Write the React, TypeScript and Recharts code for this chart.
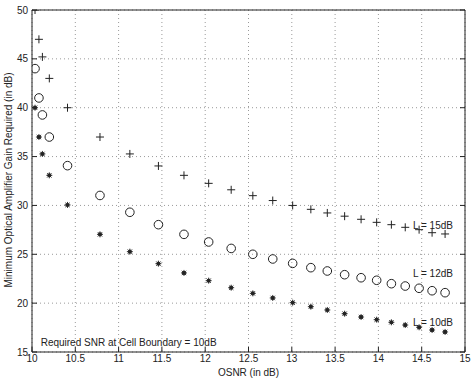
import {
  ScatterChart,
  Scatter,
  XAxis,
  YAxis,
  CartesianGrid,
  ReferenceDot,
} from "recharts";

// OSNR values (dB) shared by the three curves
const osnr = [
  10.035, 10.08, 10.12, 10.2, 10.41, 10.785, 11.13, 11.46, 11.755, 12.04, 12.3,
  12.55, 12.78, 13.01, 13.22, 13.41, 13.61, 13.8, 13.98, 14.15, 14.31, 14.47,
  14.62, 14.77,
];

const gainL15 = [
  50, 47, 45.2, 43, 40, 37, 35.27, 34.04, 33.08, 32.26, 31.6, 31.0, 30.5, 30.0,
  29.6, 29.23, 28.9, 28.58, 28.27, 28.03, 27.76, 27.52, 27.21, 27.08,
];
const gainL12 = [
  44, 41, 39.26, 37, 34.07, 31.02, 29.3, 28.03, 27.04, 26.26, 25.6, 25.0,
  24.52, 24.07, 23.63, 23.29, 22.91, 22.6, 22.34, 21.99, 21.75, 21.52, 21.27,
  21.07,
];
const gainL10 = [
  40, 37, 35.27, 33.08, 30.05, 27.04, 25.27, 24.04, 23.09, 22.3, 21.58, 21.0,
  20.53, 20.05, 19.64, 19.3, 18.92, 18.58, 18.31, 18.04, 17.76, 17.53, 17.25,
  17.05,
];

const xTicks = [10, 10.5, 11, 11.5, 12, 12.5, 13, 13.5, 14, 14.5, 15];
const yTicks = [15, 20, 25, 30, 35, 40, 45, 50];

const toPoints = (ys: number[]) => osnr.map((x, i) => ({ x, y: ys[i] }));

const INK = "#222";
const FONT = "'Liberation Sans', Arial, sans-serif";

const PlusMark = (p: any) => (
  <path
    d={`M${p.cx - 4},${p.cy}H${p.cx + 4}M${p.cx},${p.cy - 4}V${p.cy + 4}`}
    stroke={INK}
    strokeWidth={1}
    fill="none"
  />
);

const CircleMark = (p: any) => (
  <circle cx={p.cx} cy={p.cy} r={4.3} fill="none" stroke={INK} strokeWidth={1} />
);

const StarMark = (p: any) => {
  const r = 3;
  const d = 2.2;
  return (
    <g stroke={INK} strokeWidth={0.9}>
      <path
        d={`M${p.cx - r},${p.cy}H${p.cx + r}M${p.cx},${p.cy - r}V${p.cy + r}M${p.cx - d},${p.cy - d}L${p.cx + d},${p.cy + d}M${p.cx - d},${p.cy + d}L${p.cx + d},${p.cy - d}`}
      />
      <circle cx={p.cx} cy={p.cy} r={1.6} fill={INK} />
    </g>
  );
};

const textLabel = (value: string) => ({
  value,
  position: "right" as const,
  offset: 0,
  fill: INK,
  fontSize: 10,
});

export default function App() {
  const tickStyle = { fontSize: 10, fill: INK, fontFamily: FONT };
  return (
    <div style={{ position: "absolute", left: 0, top: 0, fontFamily: FONT }}>
      <ScatterChart
        width={474}
        height={379}
        margin={{ top: 9, right: 8, bottom: 0, left: 0 }}
      >
        <CartesianGrid
          stroke="#9a9a9a"
          strokeDasharray="1 3"
          horizontalValues={yTicks}
          verticalValues={xTicks}
        />
        <XAxis
          dataKey="x"
          type="number"
          domain={[10, 15]}
          ticks={xTicks}
          allowDataOverflow
          height={27}
          tick={tickStyle}
          tickSize={-5}
          tickMargin={8}
          stroke={INK}
          interval={0}
          label={{
            value: "OSNR (in dB)",
            position: "insideBottom",
            offset: 3,
            fill: INK,
            fontSize: 10,
          }}
        />
        <XAxis
          xAxisId="top"
          orientation="top"
          type="number"
          domain={[10, 15]}
          ticks={xTicks}
          allowDataOverflow
          height={1}
          tickFormatter={() => ""}
          tickSize={-5}
          stroke={INK}
          interval={0}
        />
        <YAxis
          dataKey="y"
          type="number"
          domain={[15, 50]}
          ticks={yTicks}
          allowDataOverflow
          width={32}
          tick={tickStyle}
          tickSize={-5}
          tickMargin={9}
          stroke={INK}
          interval={0}
          label={{
            content: () => (
              <text
                x={8}
                y={180}
                transform="rotate(-90 8 180)"
                textAnchor="middle"
                dominantBaseline="central"
                fontSize={10}
                fill={INK}
                fontFamily={FONT}
              >
                Minimum Optical Amplifier Gain Required (in dB)
              </text>
            ),
          }}
        />
        <YAxis
          yAxisId="right"
          orientation="right"
          type="number"
          domain={[15, 50]}
          ticks={yTicks}
          allowDataOverflow
          width={1}
          tickFormatter={() => ""}
          tickSize={-5}
          stroke={INK}
          interval={0}
        />
        <Scatter
          name="L = 15dB"
          data={toPoints(gainL15)}
          shape={PlusMark}
          isAnimationActive={false}
        />
        <Scatter
          name="L = 12dB"
          data={toPoints(gainL12)}
          shape={CircleMark}
          isAnimationActive={false}
        />
        <Scatter
          name="L = 10dB"
          data={toPoints(gainL10)}
          shape={StarMark}
          isAnimationActive={false}
        />
        <ReferenceDot x={14.4} y={28.0} r={0} label={textLabel("L = 15dB")} />
        <ReferenceDot x={14.4} y={23.05} r={0} label={textLabel("L = 12dB")} />
        <ReferenceDot x={14.4} y={18.0} r={0} label={textLabel("L = 10dB")} />
        <ReferenceDot
          x={10.1}
          y={15.95}
          r={0}
          label={textLabel("Required SNR at Cell Boundary = 10dB")}
        />
      </ScatterChart>
    </div>
  );
}
